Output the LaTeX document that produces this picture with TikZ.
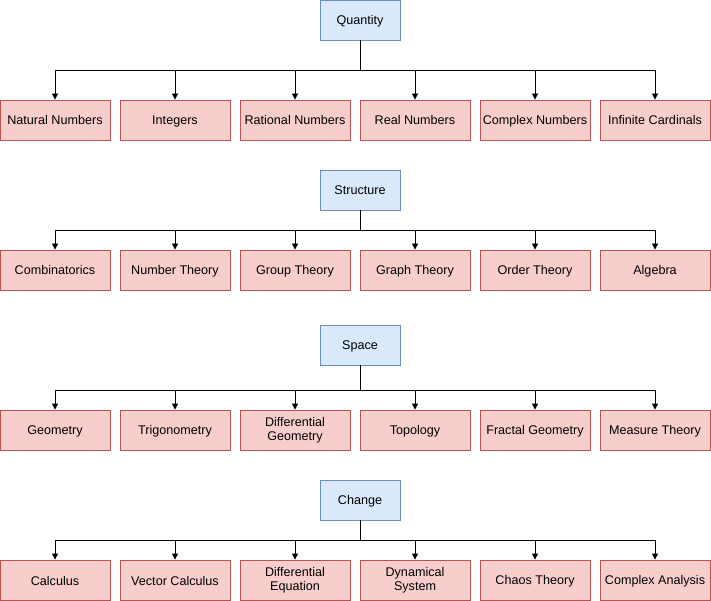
\documentclass[tikz,border=0pt]{standalone}
\usepackage{fontspec}
\setmainfont{Liberation Sans}
\usetikzlibrary{arrows.meta}
\definecolor{pfill}{HTML}{DAE8FC}
\definecolor{pdraw}{HTML}{6C8EBF}
\definecolor{cfill}{HTML}{F8CECC}
\definecolor{cdraw}{HTML}{B85450}
\newcommand{\boxstrut}{\rule[-1pt]{0pt}{12pt}}
\begin{document}
\begin{tikzpicture}[x=1pt,y=-1pt,
  parent/.style={draw=pdraw,fill=pfill,minimum width=80pt,minimum height=40pt,inner sep=0pt,font=\fontsize{12.6}{14.5}\selectfont,line width=0.8pt,execute at begin node=\boxstrut},
  child/.style={draw=cdraw,fill=cfill,minimum width=110pt,minimum height=40pt,inner sep=0pt,align=center,font=\fontsize{12.6}{14.5}\selectfont,line width=0.8pt,execute at begin node=\boxstrut},
  conn/.style={draw=black,line width=0.8pt},
  arr/.style={conn,-{Triangle[length=6pt,width=6pt]}}]
\useasboundingbox (0,0) rectangle (711,601);
\foreach \name/\label/\py/\bus/\cy/\lst in {
  q/Quantity/20/70/120/{Natural Numbers,Integers,Rational Numbers,Real Numbers,Complex Numbers,Infinite Cardinals},
  s/Structure/190/230/270/{Combinatorics,Number Theory,Group Theory,Graph Theory,Order Theory,Algebra},
  p/Space/345/390/430/{Geometry,Trigonometry,Differential\\Geometry,Topology,Fractal Geometry,Measure Theory},
  c/Change/500/540/580/{Calculus,Vector Calculus,Differential\\Equation,Dynamical\\System,Chaos Theory,Complex Analysis}}{
  \node[parent] (\name) at (360,\py) {\label};
  \coordinate (\name bus) at (360,\bus);
  \draw[conn] (\name) -- (\name bus);
  \foreach \t [count=\i] in \lst {
    \node[child] (\name\i) at ({55+120*(\i-1)},\cy) {\t};
    \coordinate (\name b\i) at ({55+120*(\i-1)},\bus);
  }
  \draw[conn] (\name b1) -- (\name b6);
  \foreach \i in {1,...,6} { \draw[arr] (\name b\i) -- (\name\i.north); }
}
\end{tikzpicture}
\end{document}
